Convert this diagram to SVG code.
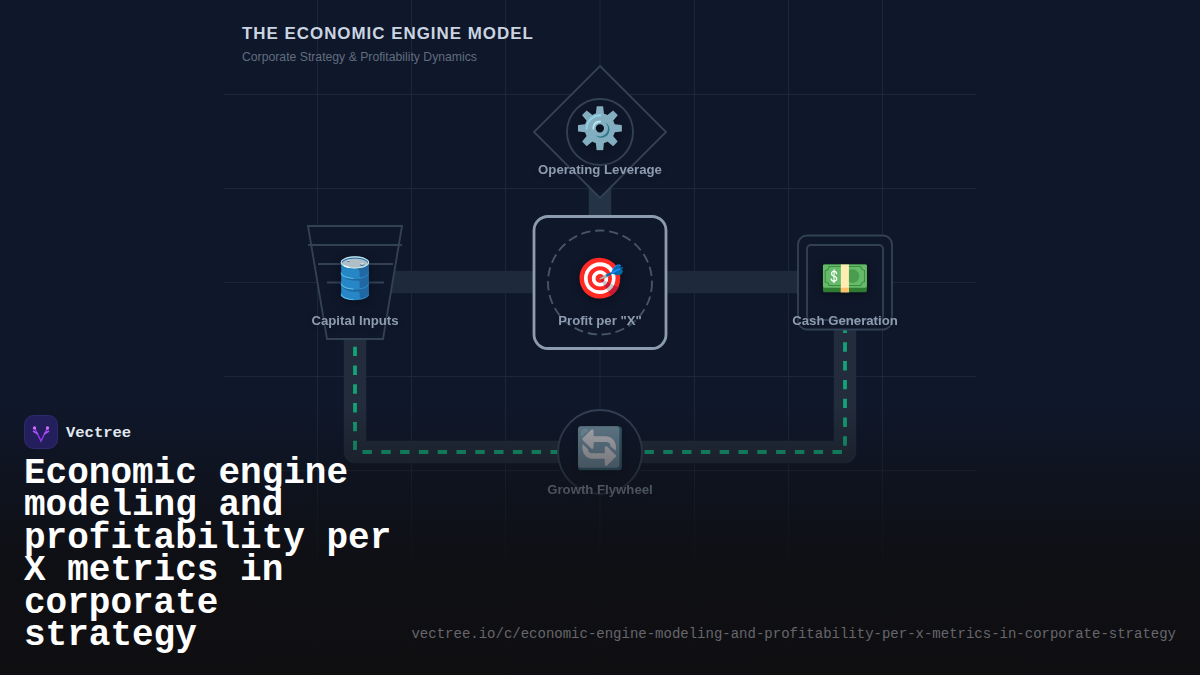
<svg xmlns="http://www.w3.org/2000/svg" width="1200" height="675" viewBox="0 0 1200 675">
<style>
.grid{stroke:#1e293b;stroke-width:.94;fill:none}
.pipe{stroke:#1e293b;stroke-width:22.5;fill:none;stroke-linejoin:round}
.flow{stroke:#10b981;stroke-width:3.76;fill:none;stroke-dasharray:9.4 9.4;stroke-dashoffset:-8.3;opacity:.85}
.shape{fill:#0f172a;stroke:#334155;stroke-width:1.88}
.label{font-family:"Liberation Sans",Arial,sans-serif;font-weight:700;font-size:13.2px;fill:#8e9cb1;text-anchor:middle;filter:drop-shadow(0 0 2px rgba(15,23,42,.9))}
.emoji{font-family:"Noto Color Emoji",sans-serif;font-size:40px;text-anchor:middle;filter:drop-shadow(0 2px 4px rgba(0,0,0,.4))}
.head{font-family:"Liberation Mono",monospace;font-weight:700;font-size:36px;fill:#fff}
</style>
<defs>
<linearGradient id="fade" x1="0" y1="0" x2="0" y2="1">
<stop offset="0" stop-color="#0f0f12" stop-opacity="0"/>
<stop offset=".33" stop-color="#0f0f12" stop-opacity=".55"/>
<stop offset=".6" stop-color="#0f0f12" stop-opacity=".92"/>
<stop offset="1" stop-color="#0f0f12" stop-opacity="1"/>
</linearGradient>
</defs>
<rect width="1200" height="675" fill="#0f172a"/>
<g id="grid" class="grid">
<path d="M317.500 0V675M411.500 0V675M505.500 0V675M600 0V675M694.500 0V675M788.500 0V675M882.500 0V675"/>
<path d="M224 94.500H976M224 188.500H976M224 282.500H976M224 376.500H976M224 470.500H976M224 564.500H976"/>
</g>
<g id="connectors">
<path class="pipe" d="M355 282H845"/>
<path class="pipe" style="stroke:#253347" d="M600 132V282"/>
<path class="pipe" style="stroke:#222c3c" d="M355 282V452H845V282"/>
<path class="flow" d="M355 282V452H845V282"/>
</g>
<g id="title">
<text x="242" y="39" font-family="Liberation Sans,Arial,sans-serif" font-weight="700" font-size="16.92" letter-spacing="1" fill="#cbd5e1">THE ECONOMIC ENGINE MODEL</text>
<text x="242" y="61" font-family="Liberation Sans,Arial,sans-serif" font-size="12.22" fill="#606d80">Corporate Strategy &amp; Profitability Dynamics</text>
</g>
<g id="node-leverage">
<path class="shape" d="M600 66L666 132L600 198L534 132Z"/>
<circle cx="600" cy="132" r="33" fill="none" stroke="#334155" stroke-width="1.88"/>
<text class="emoji" x="600" y="142">⚙️</text>
<text class="label" x="600" y="174">Operating Leverage</text>
</g>
<g id="node-capital">
<path class="shape" d="M308 226H402L383 339H327Z"/>
<path d="M308 245H402M318 264H393M327 282.500H384" stroke="#334155" stroke-width="1.88" fill="none"/>
<text class="emoji" x="355" y="291.500">🛢️</text>
<text class="label" x="355" y="325">Capital Inputs</text>
</g>
<g id="node-profit">
<rect x="534" y="216.500" width="132" height="132" rx="14" fill="#0f172a" stroke="#8d9bb0" stroke-width="2.820"/>
<circle cx="600" cy="282.500" r="52" fill="none" stroke="#475569" stroke-width="1.880" stroke-dasharray="9.400 4.700"/>
<text class="emoji" x="600" y="292">🎯</text>
<text class="label" x="600" y="325">Profit per "X"</text>
</g>
<g id="node-cash">
<rect x="798" y="235.500" width="94" height="94" rx="9" class="shape"/>
<rect x="807" y="245" width="76" height="75" rx="4" fill="none" stroke="#334155" stroke-width="1.880"/>
<text class="emoji" x="845" y="291.500">💵</text>
<text class="label" x="845" y="325">Cash Generation</text>
</g>
<g id="node-flywheel">
<circle cx="600" cy="452" r="42" class="shape"/>
<text class="emoji" x="600" y="462" opacity=".7">🔄</text>
<text class="label" x="600" y="494">Growth Flywheel</text>
</g>
<rect id="overlay" y="405" width="1200" height="270" fill="url(#fade)"/>
<g id="brand">
<rect x="24.500" y="415.500" width="33" height="33" rx="9" fill="#231f5c" stroke="#2e2a6e"/>
<path d="M35 429L41 441L47 429" fill="none" stroke="#9333ea" stroke-width="1.500"/>
<path d="M33 431L38 434M49 431L44 434" stroke="#a855f7" stroke-width="1.500"/>
<circle cx="34.500" cy="428" r="1.700" fill="#d06cf5"/><circle cx="47.500" cy="428" r="1.700" fill="#d06cf5"/>
<text x="66" y="437" font-family="Liberation Mono,monospace" font-weight="700" font-size="15.500" fill="#e2e8f0">Vectree</text>
</g>
<g id="headline">
<text class="head" x="24" y="483">Economic engine</text>
<text class="head" x="24" y="515.400">modeling and</text>
<text class="head" x="24" y="547.800">profitability per</text>
<text class="head" x="24" y="580.200">X metrics in</text>
<text class="head" x="24" y="612.600">corporate</text>
<text class="head" x="24" y="645">strategy</text>
</g>
<text id="url" x="1176" y="638" text-anchor="end" font-family="Liberation Mono,monospace" font-size="14" fill="#66666c">vectree.io/c/economic-engine-modeling-and-profitability-per-x-metrics-in-corporate-strategy</text>
</svg>
